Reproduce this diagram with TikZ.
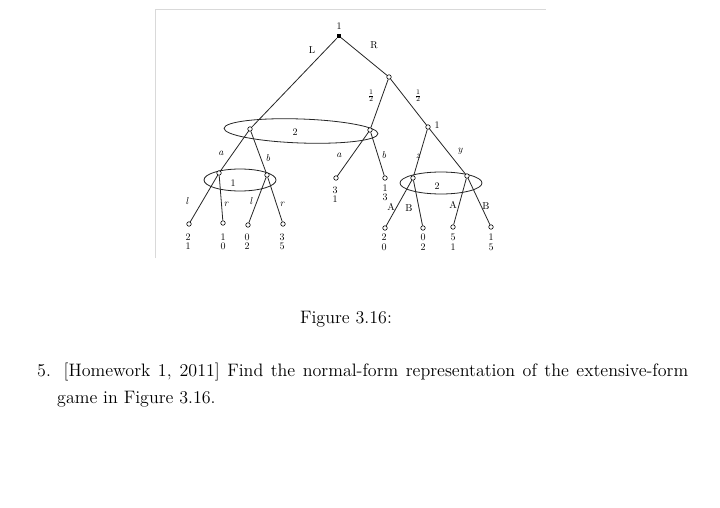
\documentclass[tikz,border=0pt]{standalone}
\usepackage{graphicx}
\begin{document}
\begin{tikzpicture}[x=1pt,y=-1pt,
  dec/.style={circle,draw,inner sep=0pt,minimum size=4.5pt,line width=0.6pt,fill=white},
  rootnode/.style={rectangle,fill=black,inner sep=0pt,minimum size=4pt},
  lab/.style={font=\fontsize{10}{10}\selectfont,inner sep=0pt},
  ilab/.style={font=\itshape\fontsize{10}{10}\selectfont,inner sep=0pt},
  branch/.style={line width=0.8pt,draw=black!85},
  infoset/.style={line width=0.8pt,draw=black!85},
  body/.style={font=\fontsize{12}{14}\selectfont,inner sep=0pt,anchor=base west}]
\useasboundingbox (0,0) rectangle (720,508);
\fill[white] (0,0) rectangle (720,508);
% faint frame of the figure
\draw[black!15,line width=0.6pt] (155,258) -- (155,9) -- (546,9);
% information sets
\draw[infoset,rotate around={-2:(301,131)}] (301,131) ellipse [x radius=77, y radius=12];
\draw[infoset] (240,180) ellipse [x radius=36, y radius=11];
\draw[infoset] (441,183) ellipse [x radius=41, y radius=11];
\node[lab] (s2a) at (295,132) {2};
\node[lab] (s1) at (233,183) {1};
\node[lab] (s2b) at (437,186) {2};
% decision nodes
\node[rootnode] (r) at (339,36) {};
\node[lab] (rl) at (339,26) {1};
\node[dec] (c) at (389,77) {};
\node[dec] (p2l) at (250,129) {};
\node[dec] (p2r) at (370,130) {};
\node[dec] (p1r) at (428,127) {};
\node[lab] (p1rl) at (437,125) {1};
\node[dec] (q1) at (219,173) {};
\node[dec] (q2) at (267,175) {};
\node[dec] (m1) at (413,178) {};
\node[dec] (m2) at (467,176) {};
% terminal nodes
\node[dec] (t1) at (189,224) {};
\node[dec] (t2) at (223,223) {};
\node[dec] (t3) at (248,225) {};
\node[dec] (t4) at (283,224) {};
\node[dec] (t5) at (336,178) {};
\node[dec] (t6) at (385,178) {};
\node[dec] (t7) at (385,228) {};
\node[dec] (t8) at (423,228) {};
\node[dec] (t9) at (453,227) {};
\node[dec] (t10) at (491,227) {};
% branches
\draw[branch] (r) -- (p2l);
\draw[branch] (r) -- (c);
\draw[branch] (c) -- (p2r);
\draw[branch] (c) -- (p1r);
\draw[branch] (p2l) -- (q1);
\draw[branch] (p2l) -- (q2);
\draw[branch] (p2r) -- (t5);
\draw[branch] (p2r) -- (t6);
\draw[branch] (p1r) -- (m1);
\draw[branch] (p1r) -- (m2);
\draw[branch] (q1) -- (t1);
\draw[branch] (q1) -- (t2);
\draw[branch] (q2) -- (t3);
\draw[branch] (q2) -- (t4);
\draw[branch] (m1) -- (t7);
\draw[branch] (m1) -- (t8);
\draw[branch] (m2) -- (t9);
\draw[branch] (m2) -- (t10);
% branch labels
\node[lab] (lL) at (312,50) {L};
\node[lab] (lR) at (374,45) {R};
\node[lab] (lh1) at (371,96) {$\frac{1}{2}$};
\node[lab] (lh2) at (418,96) {$\frac{1}{2}$};
\node[ilab] (la1) at (221,153) {a};
\node[ilab] (lb1) at (268,158) {b};
\node[ilab] (la2) at (339,155) {a};
\node[ilab] (lb2) at (384,155) {b};
\node[ilab] (lz) at (418,156) {z};
\node[ilab] (ly) at (460,151) {y};
\node[ilab] (ll1) at (187,201) {l};
\node[ilab] (lr1) at (226,204) {r};
\node[ilab] (ll2) at (251,201) {l};
\node[ilab] (lr2) at (282,204) {r};
\node[lab] (lA1) at (391,207) {A};
\node[lab] (lB1) at (409,208) {B};
\node[lab] (lA2) at (453,205) {A};
\node[lab] (lB2) at (486,206) {B};
% payoffs
\node[lab] (u1a) at (188,237) {2}; \node[lab] (u1b) at (188,246) {1};
\node[lab] (u2a) at (223,237) {1}; \node[lab] (u2b) at (223,246) {0};
\node[lab] (u3a) at (247,237) {0}; \node[lab] (u3b) at (247,246) {2};
\node[lab] (u4a) at (282,237) {3}; \node[lab] (u4b) at (282,246) {5};
\node[lab] (u5a) at (335,190) {3}; \node[lab] (u5b) at (335,199) {1};
\node[lab] (u6a) at (385,188) {1}; \node[lab] (u6b) at (385,197) {3};
\node[lab] (u7a) at (384,237) {2}; \node[lab] (u7b) at (384,247) {0};
\node[lab] (u8a) at (423,237) {0}; \node[lab] (u8b) at (423,247) {2};
\node[lab] (u9a) at (453,237) {5}; \node[lab] (u9b) at (453,247) {1};
\node[lab] (u10a) at (491,237) {1}; \node[lab] (u10b) at (491,247) {5};
% caption and text
\node[body,anchor=base] (cap) at (346,323) {\scalebox{1.5}{Figure 3.16:}};
\node[body] (t1line) at (37,376) {\scalebox{1.5}{\makebox[434pt][s]{5. [Homework 1, 2011] Find the normal-form representation of the extensive-form}}};
\node[body] (t2line) at (57,403) {\scalebox{1.5}{game in Figure 3.16.}};
\end{tikzpicture}
\end{document}
